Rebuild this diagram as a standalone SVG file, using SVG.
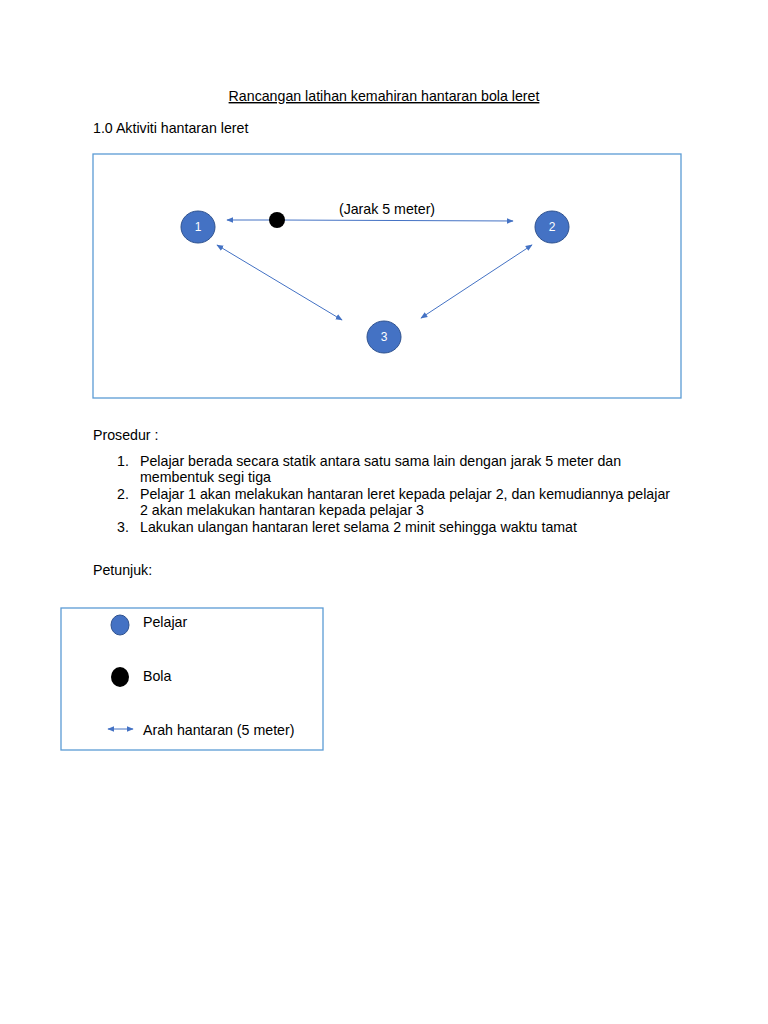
<svg xmlns="http://www.w3.org/2000/svg" width="768" height="1024" viewBox="0 0 768 1024">
<defs>
<marker id="ah" viewBox="0 0 10 10" refX="9" refY="5" markerWidth="7" markerHeight="7" orient="auto-start-reverse" markerUnits="userSpaceOnUse">
<path d="M0,1 L10,5 L0,9 z" fill="#4472C4"/>
</marker>
<style>
.t{font-family:"Liberation Sans",Arial,sans-serif;font-size:14.2px;fill:#000}
.frame{fill:none;stroke:#5B9BD5;stroke-width:1.3}
.p{fill:#4472C4;stroke:#2F528F;stroke-width:1}
.n{font-family:"Liberation Sans",Arial,sans-serif;font-size:12px;fill:#fff;text-anchor:middle}
.c{stroke:#4472C4;stroke-width:1;fill:none}
</style>
</defs>
<rect width="768" height="1024" fill="#fff"/>
<text class="t" x="384" y="101" text-anchor="middle" text-decoration="underline">Rancangan latihan kemahiran hantaran bola leret</text>
<text class="t" x="93" y="133">1.0 Aktiviti hantaran leret</text>
<rect class="frame" x="93" y="154" width="588" height="244"/>
<g id="connectors">
<line class="c" x1="277" y1="220" x2="227" y2="220" marker-end="url(#ah)"/>
<line class="c" x1="277" y1="220" x2="513" y2="221" marker-end="url(#ah)"/>
<line class="c" x1="217" y1="245" x2="342" y2="320" marker-start="url(#ah)" marker-end="url(#ah)"/>
<line class="c" x1="532" y1="245" x2="421" y2="318" marker-start="url(#ah)" marker-end="url(#ah)"/>
</g>
<g id="ball"><circle cx="277" cy="220" r="8" fill="#000"/></g>
<text class="t" x="387" y="214" text-anchor="middle">(Jarak 5 meter)</text>
<g id="n1"><ellipse class="p" cx="198" cy="227" rx="17" ry="16"/><text class="n" x="198" y="231">1</text></g>
<g id="n2"><ellipse class="p" cx="552" cy="227" rx="17" ry="16"/><text class="n" x="552" y="231">2</text></g>
<g id="n3"><ellipse class="p" cx="384" cy="337" rx="17" ry="16"/><text class="n" x="384" y="341">3</text></g>
<text class="t" x="93" y="440">Prosedur :</text>
<text class="t" x="117" y="466">1.</text>
<text class="t" x="140" y="466">Pelajar berada secara statik antara satu sama lain dengan jarak 5 meter dan</text>
<text class="t" x="140" y="482">membentuk segi tiga</text>
<text class="t" x="117" y="499">2.</text>
<text class="t" x="140" y="499">Pelajar 1 akan melakukan hantaran leret kepada pelajar 2, dan kemudiannya pelajar</text>
<text class="t" x="140" y="515">2 akan melakukan hantaran kepada pelajar 3</text>
<text class="t" x="117" y="532">3.</text>
<text class="t" x="140" y="532">Lakukan ulangan hantaran leret selama 2 minit sehingga waktu tamat</text>
<text class="t" x="93" y="575">Petunjuk:</text>
<g id="legend">
<rect class="frame" x="61" y="608" width="262" height="142"/>
<ellipse class="p" cx="120" cy="625" rx="9" ry="10"/>
<text class="t" x="143" y="627">Pelajar</text>
<ellipse cx="120" cy="677" rx="9" ry="10" fill="#000"/>
<text class="t" x="143" y="681">Bola</text>
<line class="c" x1="108" y1="729" x2="133" y2="729" marker-start="url(#ah)" marker-end="url(#ah)"/>
<text class="t" x="143" y="735">Arah hantaran (5 meter)</text>
</g>
</svg>
